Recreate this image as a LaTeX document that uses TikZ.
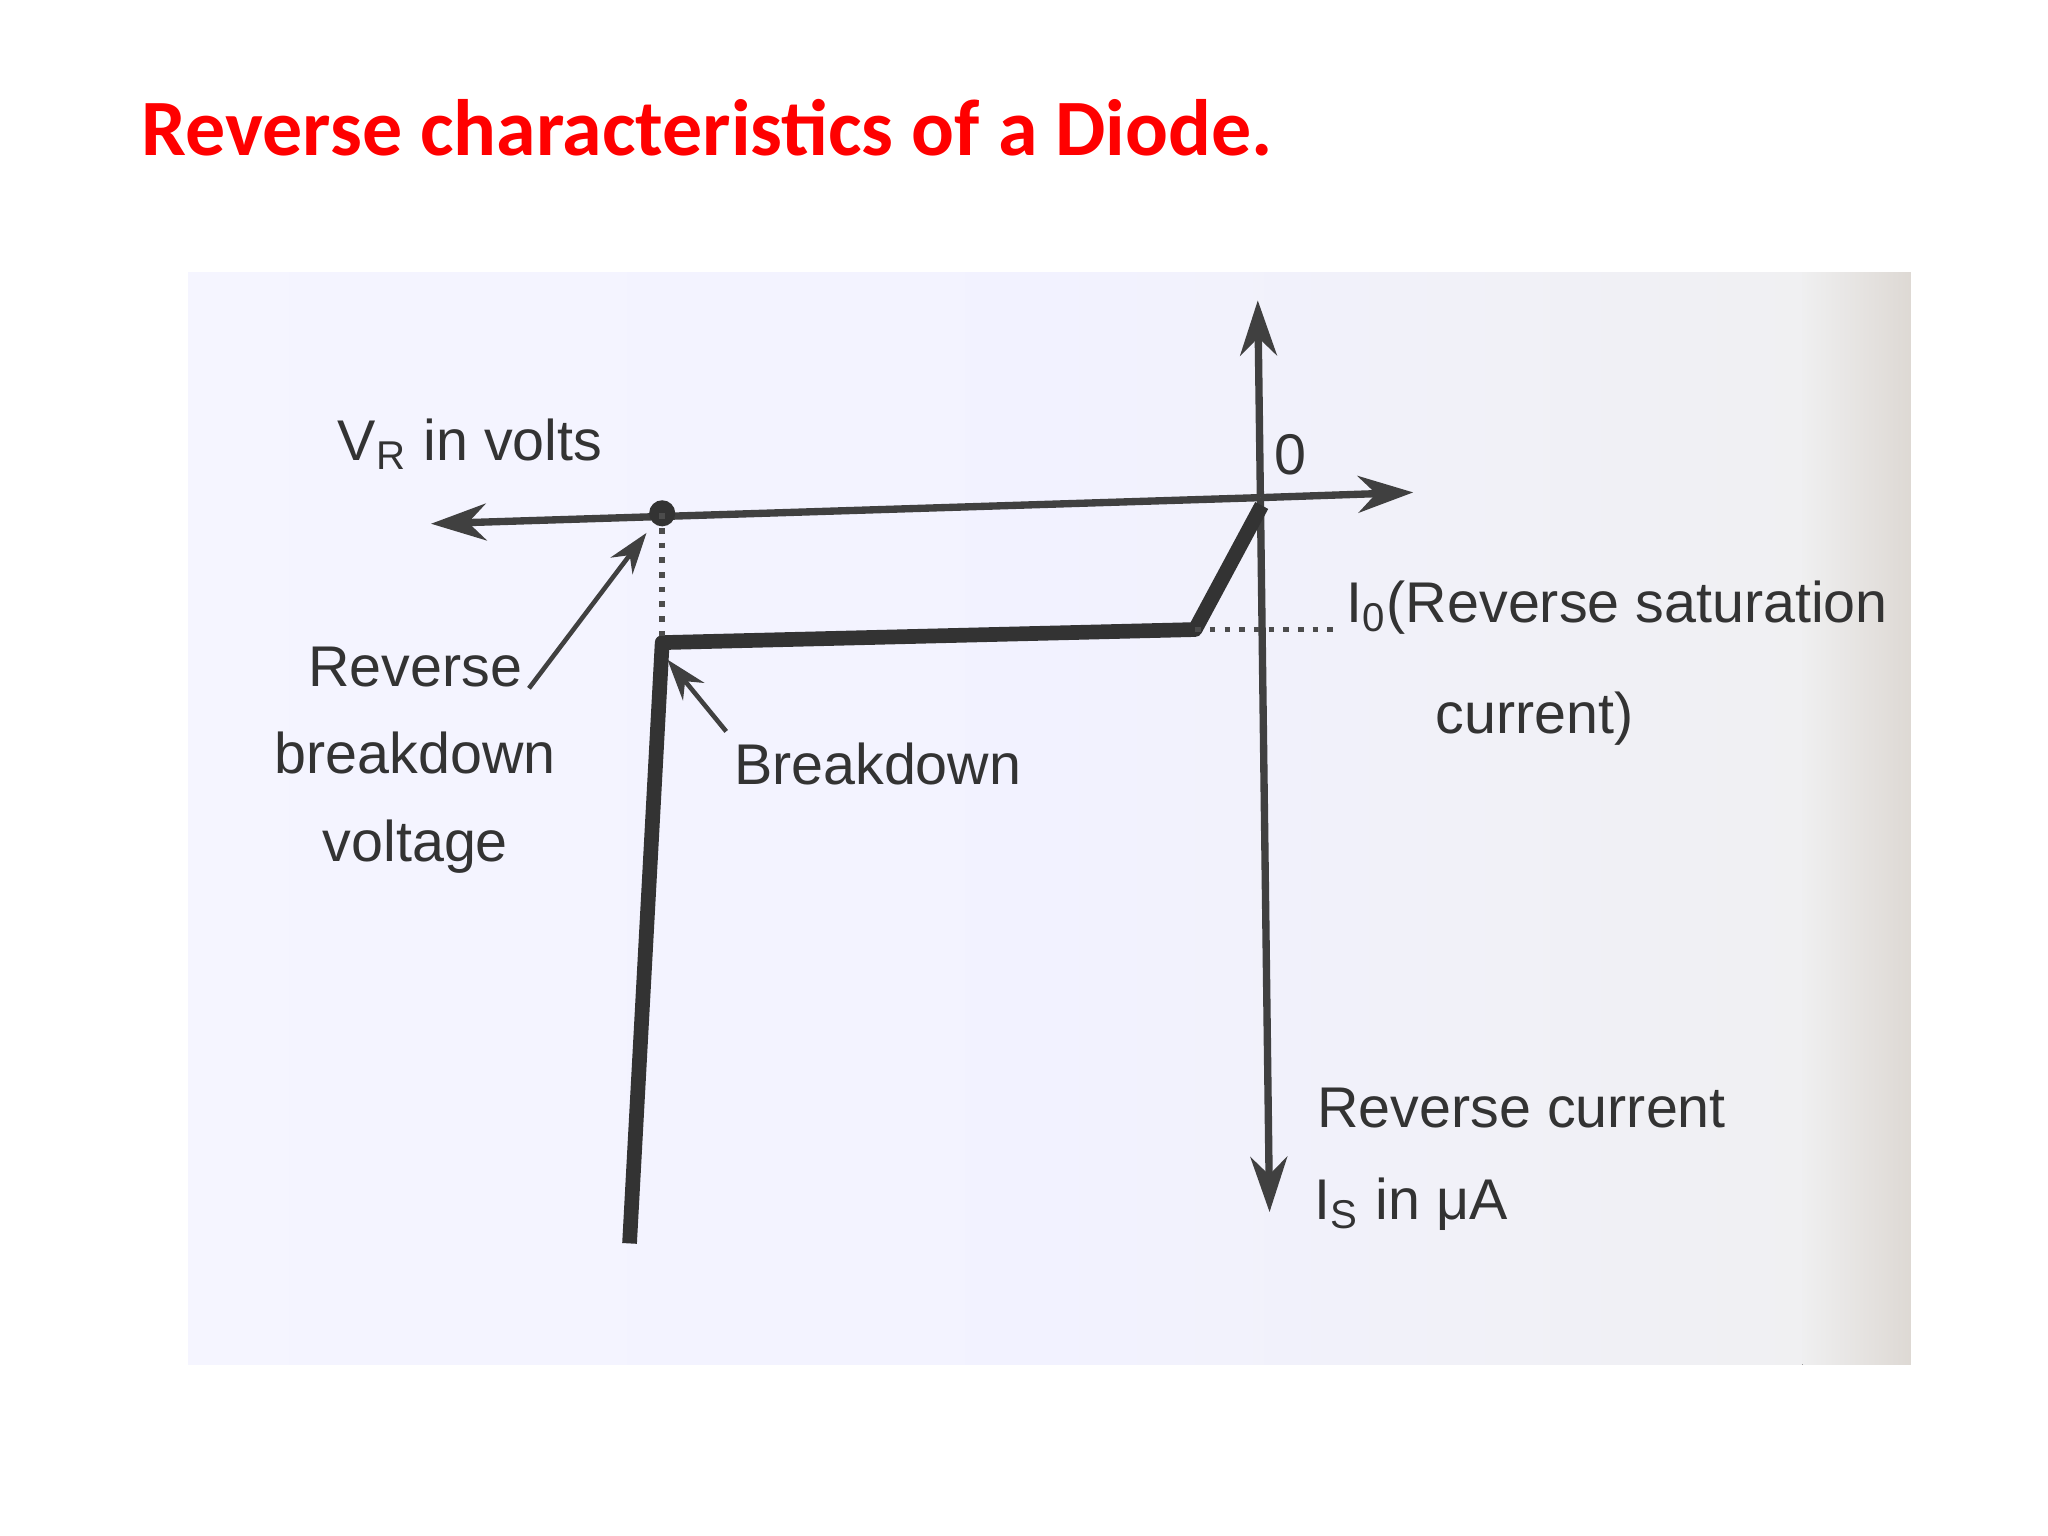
\documentclass[tikz,border=0pt]{standalone}
\usepackage{fontspec}
\setmainfont{Liberation Sans}
\newfontfamily\titlefont{Carlito}
\usetikzlibrary{arrows.meta}
\begin{document}
\begin{tikzpicture}[x=0.01cm,y=-0.01cm,
  lbl/.style={font=\fontsize{12.5}{15}\selectfont, text=black!80, inner sep=0pt},
  ax/.style={line width=1.6pt, black!75, -{Stealth[length=12pt,width=8pt]}},
  curve/.style={line width=3.2pt, black!80, line join=round},
  dots/.style={line width=1.2pt, black!70, dotted},
  ptr/.style={line width=1pt, black!75, -{Stealth[length=9pt,width=6pt]}}]
\useasboundingbox (0,0) rectangle (1568,1176);
\fill[white] (0,0) rectangle (1568,1176);
\node[anchor=west, text=red, font=\titlefont\bfseries\fontsize{17.4}{20}\selectfont, inner sep=0pt] (title) at (108,98) {Reverse characteristics of a Diode.};
\fill[left color=blue!4!white, right color=blue!3!gray!12, middle color=blue!5!white] (144,209) rectangle (1463,1045);
\fill[right color=brown!25!gray!30, left color=blue!3!gray!12] (1380,209) rectangle (1463,1045);
% axes
\coordinate (o) at (965,381);
\coordinate (xl) at (330,401);
\coordinate (xr) at (1082,377);
\coordinate (yt) at (963,230);
\coordinate (yb) at (972,928);
\draw[ax] (o) -- (xl);
\draw[ax] (o) -- (xr);
\draw[ax] (o) -- (yt);
\draw[ax] (o) -- (yb);
% curve
\coordinate (k) at (915,482);
\coordinate (b) at (507,492);
\coordinate (e) at (482,952);
\coordinate (d) at (507,393);
\draw[curve] (966,387) -- (k) -- (b) -- (e);
\fill[black!80] (d) circle (10);
\draw[dots] (d) -- (b);
\coordinate (kd) at (1022,482);
\draw[dots] (k) -- (kd);
% labels
\node[lbl, anchor=west] (vr) at (258,340) {V$_\mathrm{R}$ in volts};
\node[lbl, anchor=west] (zero) at (975,348) {0};
\node[lbl, anchor=west] (io) at (1030,465) {I$_\mathrm{0}$(Reverse saturation};
\node[lbl] (cur) at (1175,550) {current)};
\node[lbl, align=center] (rbv) at (318,582) {Reverse\\[4pt]breakdown\\[4pt]voltage};
\node[lbl] (bd) at (672,585) {Breakdown};
\node[lbl, anchor=west] (rc) at (1008,848) {Reverse current};
\node[lbl, anchor=west] (is) at (1006,922) {I$_\mathrm{S}$ in μA};
\coordinate (p1) at (405,527);
\coordinate (p2) at (495,408);
\draw[ptr] (p1) -- (p2);
\coordinate (q1) at (556,560);
\coordinate (q2) at (511,505);
\draw[ptr] (q1) -- (q2);
\end{tikzpicture}
\end{document}
